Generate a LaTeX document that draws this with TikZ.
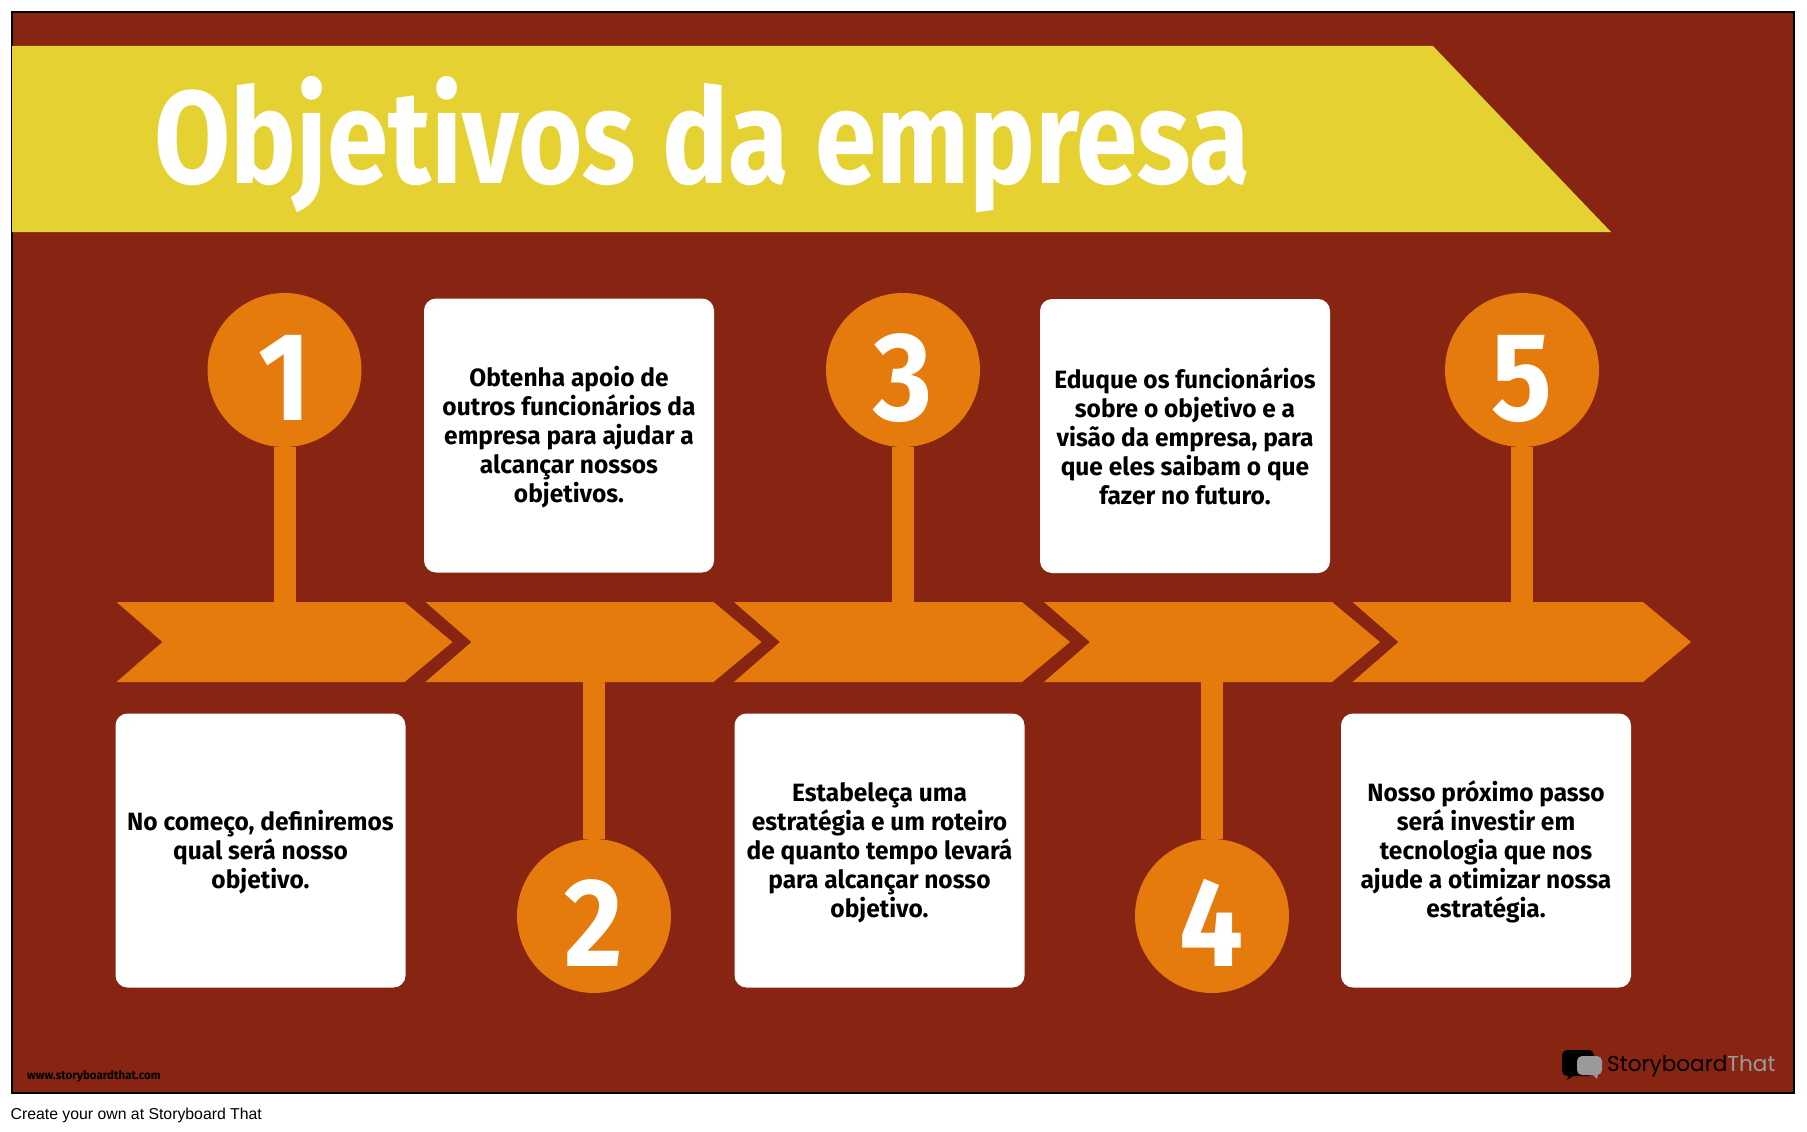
\documentclass[tikz,border=0pt]{standalone}
\usepackage{fontspec}
\setmainfont{Liberation Sans}
\newfontfamily\headfont[FakeStretch=0.837]{Fira Sans Bold}
\newfontfamily\numfont[FakeStretch=0.90]{Fira Sans Bold}
\newfontfamily\bodyfont[FakeStretch=0.98]{Fira Sans Bold}
\newfontfamily\logofont{Poppins}
\definecolor{brickred}{HTML}{872412}
\definecolor{bannergold}{HTML}{E5D132}
\definecolor{stepamber}{HTML}{E57B0C}
\definecolor{logogrey}{HTML}{9A9A9A}
\newcommand{\discnum}[1]{\raisebox{-50pt}[0pt][0pt]{#1}}
\newcommand{\toproom}{\rule{0pt}{24pt}}
\tikzset{
  stemline/.style={draw=stepamber, line width=22pt},
  arrowpart/.style={fill=stepamber},
  numdisc/.style={circle, fill=stepamber, minimum size=154pt, inner sep=0pt, text=white,
    font={\numfont\fontsize{126pt}{126pt}\selectfont}},
  notebox/.style={rectangle, fill=white, rounded corners=12pt, minimum width=290pt,
    minimum height=274pt, inner sep=0pt, align=center, text=black,
    font={\bodyfont\fontsize{25pt}{29pt}\selectfont}}}

\begin{document}
\begin{tikzpicture}[x=1pt,y=-1pt]
\useasboundingbox (0,0) rectangle (1807,1132);
\fill [white] (0,0) rectangle (1807,1132);
\draw [black, line width=1.2pt, fill=brickred] (12,12) rectangle (1794,1093);
\fill [bannergold] (12,46) -- (1433,46) -- (1611,232) -- (12,232) -- cycle;
\node [text=white, anchor=base west, inner sep=0pt, font={\headfont\fontsize{132pt}{132pt}\selectfont}] (title) at (154,183) {Objetivos da empresa};

\fill [arrowpart] (116.5,602) -- (404.5,602) -- (452.5,642) -- (404.5,682) -- (116.5,682) -- (162.5,642) -- cycle;
\fill [arrowpart] (425.5,602) -- (713.5,602) -- (761.5,642) -- (713.5,682) -- (425.5,682) -- (471.5,642) -- cycle;
\fill [arrowpart] (734,602) -- (1022,602) -- (1070,642) -- (1022,682) -- (734,682) -- (780,642) -- cycle;
\fill [arrowpart] (1044,602) -- (1332,602) -- (1380,642) -- (1332,682) -- (1044,682) -- (1090,642) -- cycle;
\fill [arrowpart] (1352.5,602) -- (1643,602) -- (1691,642) -- (1643,682) -- (1352.5,682) -- (1398.5,642) -- cycle;

\coordinate (link1) at (284.5,603);
\coordinate (link2) at (594,681);
\coordinate (link3) at (903,603);
\coordinate (link4) at (1212,681);
\coordinate (link5) at (1522,603);

\node [numdisc] (disc1) at (284.5,370) {\discnum{1}};
\node [numdisc] (disc2) at (594,916) {\discnum{2}};
\node [numdisc] (disc3) at (903,370) {\discnum{3}};
\node [numdisc] (disc4) at (1212,916) {\discnum{4}};
\node [numdisc] (disc5) at (1522,370) {\discnum{5}};

\draw [stemline] (disc1) -- (link1);
\draw [stemline] (disc2) -- (link2);
\draw [stemline] (disc3) -- (link3);
\draw [stemline] (disc4) -- (link4);
\draw [stemline] (disc5) -- (link5);

\node [notebox] (note1) at (260.5,850.5) {\toproom No começo, definiremos\\qual será nosso\\objetivo.};
\node [notebox] (note2) at (569,435.5) {\toproom Obtenha apoio de\\outros funcionários da\\empresa para ajudar a\\alcançar nossos\\objetivos.};
\node [notebox] (note3) at (879.5,850.5) {\toproom Estabeleça uma\\estratégia e um roteiro\\de quanto tempo levará\\para alcançar nosso\\objetivo.};
\node [notebox] (note4) at (1185,436) {Eduque os funcionários\\sobre o objetivo e a\\visão da empresa, para\\que eles saibam o que\\fazer no futuro.};
\node [notebox] (note5) at (1486,850.5) {\toproom Nosso próximo passo\\será investir em\\tecnologia que nos\\ajude a otimizar nossa\\estratégia.};

\node [anchor=base west, inner sep=0pt, text=black, font={\bodyfont\fontsize{11.8pt}{14pt}\selectfont}] (site) at (27,1079) {www.storyboardthat.com};
\node [anchor=base west, inner sep=0pt, text=black, font={\fontsize{15.8pt}{18pt}\selectfont}] (credit) at (10.5,1119) {Create your own at Storyboard That};

\fill [black, rounded corners=5pt] (1562,1050) rectangle (1594,1076);
\fill [black] (1569,1074) -- (1567,1080) -- (1576,1074) -- cycle;
\fill [logogrey, rounded corners=5pt] (1577,1056) rectangle (1602,1075);
\fill [logogrey] (1592,1074) -- (1597,1079) -- (1598,1074) -- cycle;
\node [anchor=base west, inner sep=0pt, font={\logofont\fontsize{21.6pt}{26pt}\selectfont}] (logo) at (1607,1071) {Storyboard\textcolor{logogrey}{That}};
\end{tikzpicture}
\end{document}
